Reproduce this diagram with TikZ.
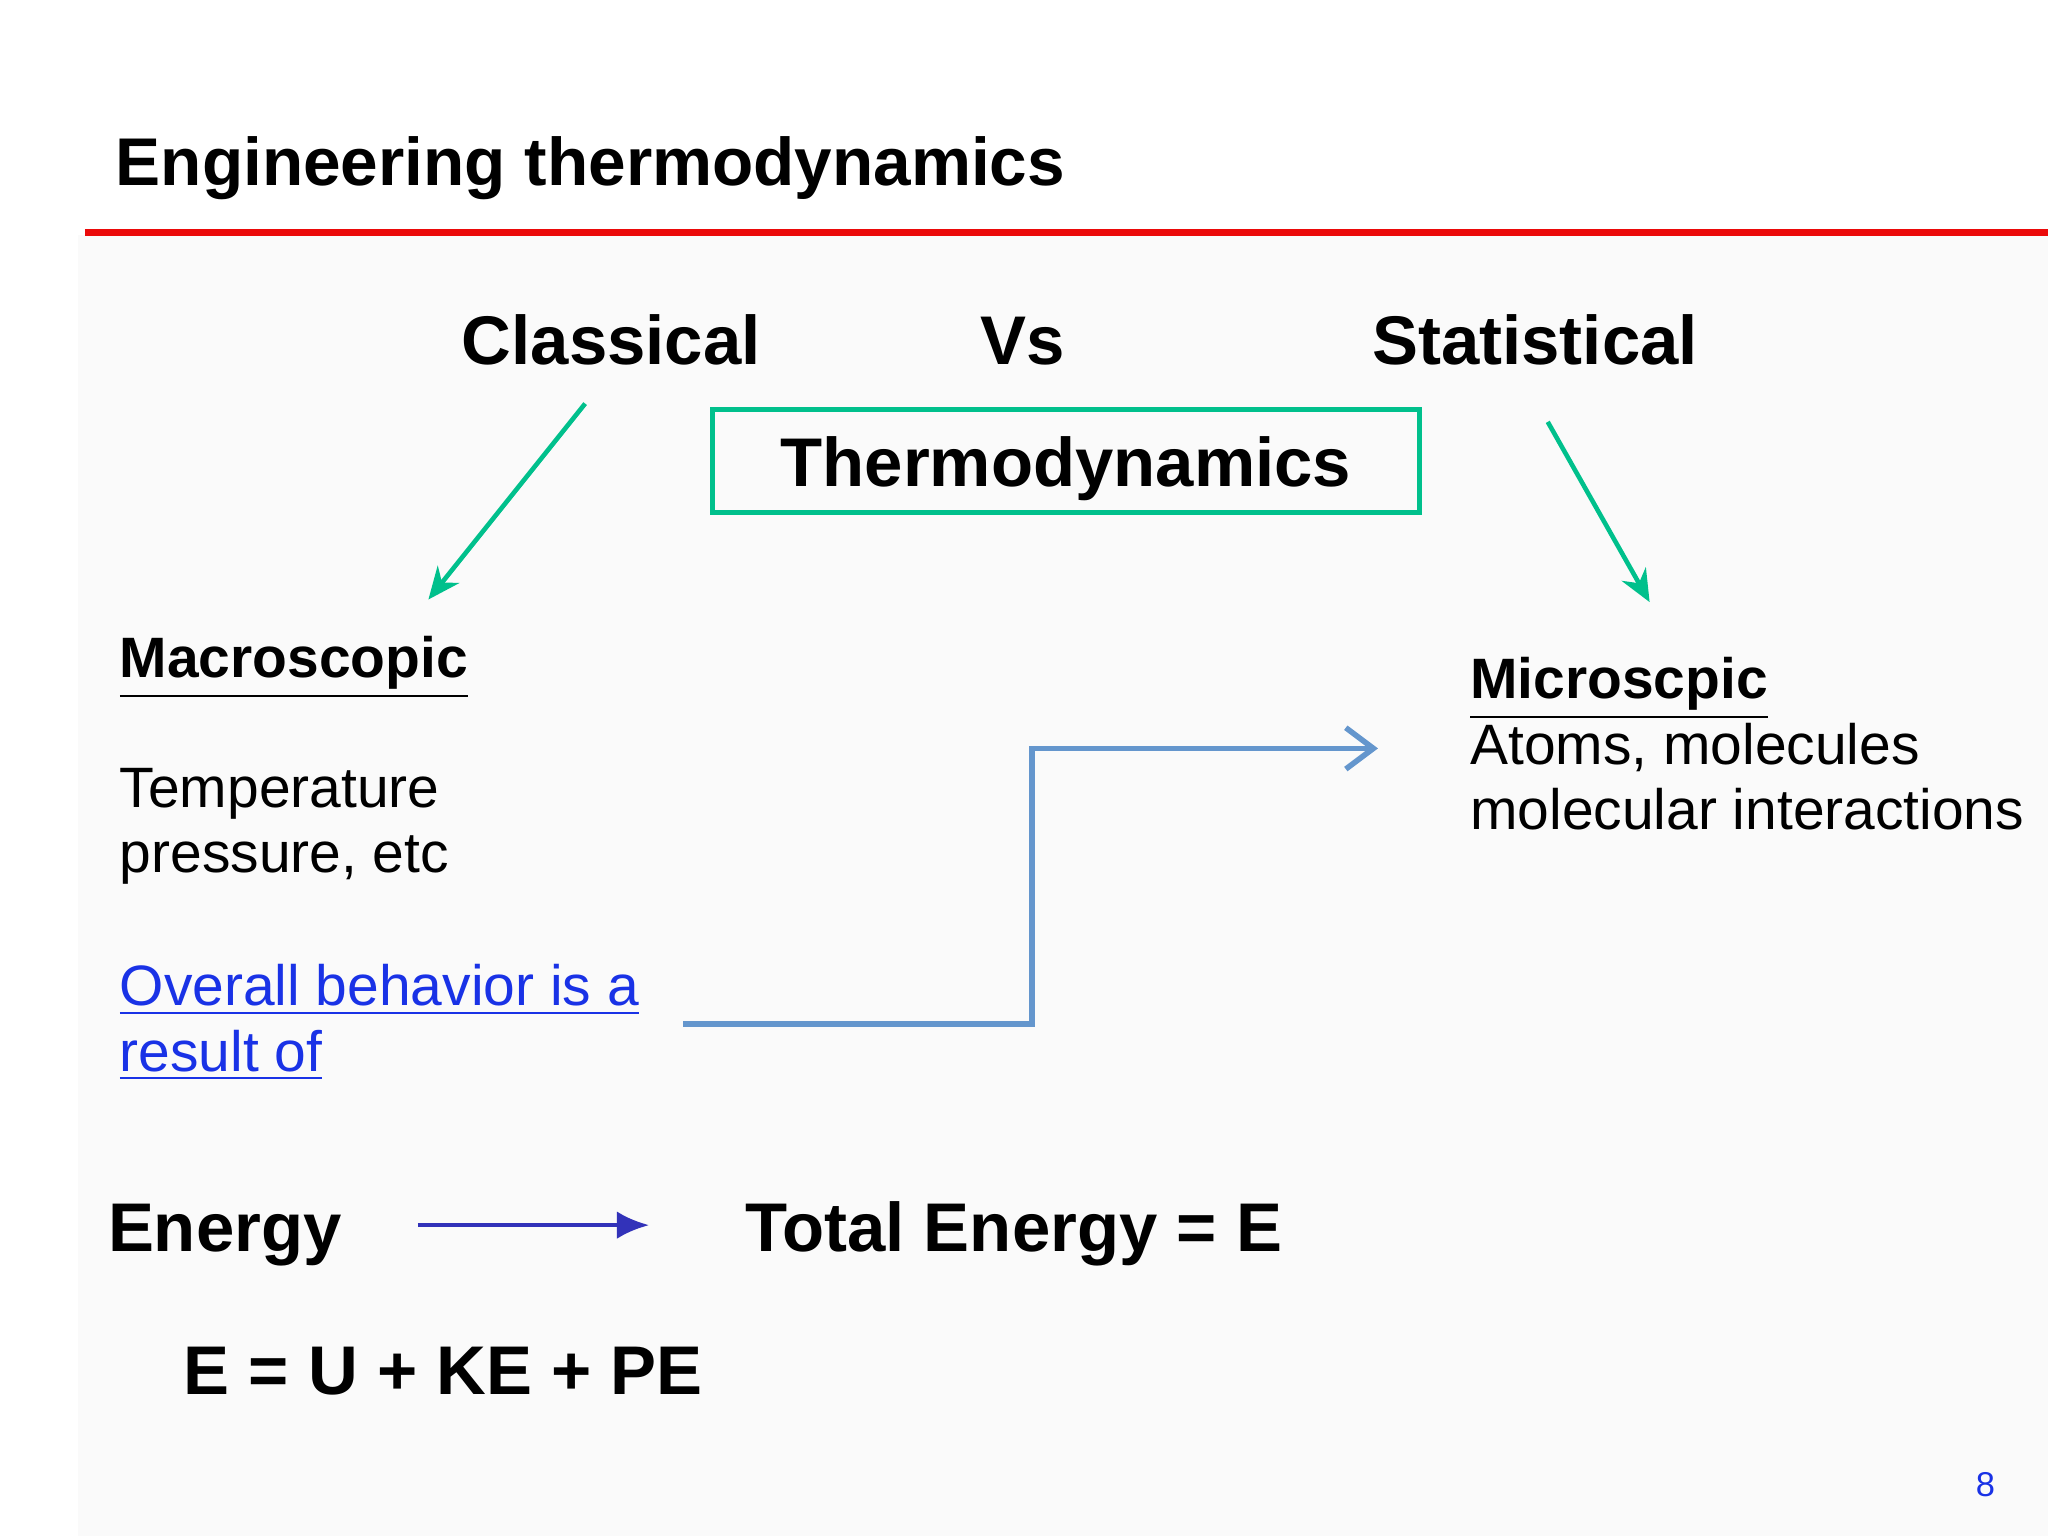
\documentclass[tikz,border=0pt]{standalone}
\usepackage{fontspec}
\setmainfont{Liberation Sans}
\usetikzlibrary{arrows.meta}
\definecolor{slidered}{RGB}{235,10,10}
\definecolor{teal}{RGB}{0,192,140}
\definecolor{linkblue}{RGB}{25,50,230}
\definecolor{stepblue}{RGB}{100,150,205}
\definecolor{darkblue}{RGB}{50,50,185}

\begin{document}
\begin{tikzpicture}[x=0.01cm, y=-0.01cm,
	txt/.style={anchor=base west, inner sep=0pt},
	head/.style={txt, font=\fontsize{15}{18}\selectfont\bfseries},
	body/.style={txt, font=\fontsize{12.4}{15}\selectfont},
	greenarrow/.style={teal, line width=1pt, -{Stealth[length=7pt,width=6pt]}}]
		% page and background
		\useasboundingbox (0,0) rectangle (1568,1176);
		\fill[white] (0,0) rectangle (1568,1176);
		\fill[black!2] (60,180) rectangle (1568,1176);

		% title
		\node[txt, font=\fontsize{14.7}{17}\selectfont\bfseries] (title) at (88,142) {Engineering thermodynamics};
		\draw[slidered, line width=1.4pt] (65,178) -- (1568,178);

		% top row
		\node[head] (classical) at (353,279) {Classical};
		\node[head] (vs) at (750,279) {Vs};
		\node[head] (statistical) at (1050,279) {Statistical};
		\node[draw=teal, line width=1pt, minimum width=5.41cm, minimum height=0.79cm, inner sep=0pt,
			text depth=0pt, font=\fontsize{15}{18}\selectfont\bfseries] (thermo) at (816,353) {Thermodynamics};

		% left column
		\node[body, font=\fontsize{12.4}{15}\selectfont\bfseries] (macro) at (91,519) {$\underline{\hbox{Macroscopic}}$};
		\node[body] (temp) at (91,618) {Temperature};
		\node[body] (press) at (91,668) {pressure, etc};
		\node[body, text=linkblue] (overall) at (91,770) {$\underline{\hbox{Overall behavior is a}}$};
		\node[body, text=linkblue] (result) at (91,820) {$\underline{\hbox{result of}}$};

		% right column
		\node[body, font=\fontsize{12.4}{15}\selectfont\bfseries] (micro) at (1125,535) {$\underline{\hbox{Microscpic}}$};
		\node[body] (atoms) at (1125,585) {Atoms, molecules};
		\node[body] (inter) at (1125,635) {molecular interactions};

		% arrows
		\coordinate (c1) at (448,309);
		\coordinate (c2) at (328,459);
		\coordinate (s1) at (1185,323);
		\coordinate (s2) at (1263,461);
		\draw[greenarrow] (c1) -- (c2);
		\draw[greenarrow] (s1) -- (s2);
		\coordinate (b1) at (523,784);
		\coordinate (b2) at (1055,573);
		\draw[stepblue, line width=1.2pt, -{Straight Barb[length=6pt,width=9pt]}] (b1) -| (790,573) -- (b2);

		% energy
		\node[head] (energy) at (82,958) {Energy};
		\node[head] (total) at (570,958) {Total Energy = E};
		\coordinate (e1) at (320,938);
		\coordinate (e2) at (497,938);
		\draw[darkblue, line width=1pt, -{Latex[length=7pt,width=6pt]}] (e1) -- (e2);
		\node[head] (sum) at (140,1068) {E = U + KE + PE};

		\node[txt, font=\fontsize{7.5}{9}\selectfont, text=linkblue] (page) at (1512,1146) {8};
\end{tikzpicture}
\end{document}
